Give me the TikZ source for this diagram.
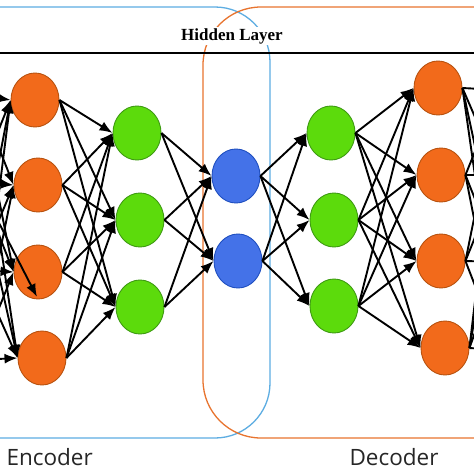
\documentclass[tikz,border=0pt]{standalone}
\usepackage{fontspec}
\setmainfont{Liberation Serif}
\newfontfamily\labfont{Open Sans}
\usetikzlibrary{shapes.geometric,arrows.meta}
\definecolor{orfill}{HTML}{F26A1B}
\definecolor{ordraw}{HTML}{B8520F}
\definecolor{grfill}{HTML}{5CDB0C}
\definecolor{grdraw}{HTML}{3E9B12}
\definecolor{blfill}{HTML}{4472E8}
\definecolor{bldraw}{HTML}{1F4FC0}
\definecolor{encline}{HTML}{5DADE2}
\definecolor{decline}{HTML}{E8742F}
\begin{document}
\begin{tikzpicture}[x=1pt,y=-1pt,
  neuron/.style={ellipse,inner sep=0pt,minimum width=48pt,minimum height=54pt,line width=0.9pt},
  onode/.style={neuron,fill=orfill,draw=ordraw},
  gnode/.style={neuron,fill=grfill,draw=grdraw},
  bnode/.style={neuron,fill=blfill,draw=bldraw},
  edge/.style={line width=1.9pt,-{Latex[length=13pt,width=10pt]}},
  plain/.style={line width=1.9pt},
  encbox/.style={draw=encline,line width=1.3pt,rounded corners=55pt},
  decbox/.style={draw=decline,line width=1.3pt,rounded corners=58pt},
  title/.style={font=\bfseries\fontsize{17}{19}\selectfont,fill=white,inner sep=1pt,anchor=base},
  lab/.style={font=\labfont\fontsize{22.5}{25}\selectfont,inner sep=0pt,text=black!85}]
\useasboundingbox (0,0) rectangle (474,474);
\clip (0,0) rectangle (474,474);
\fill[white] (0,0) rectangle (474,474);
% boxes
\draw[encbox] (-80,7) rectangle (270,438);
\draw[decbox] (203,7) rectangle (560,438);
\draw[line width=1.4pt] (0,53) -- (474,53);
\node[title] (hl) at (232,40) {Hidden Layer};
\node[lab,anchor=base east] (enc) at (93,465) {Encoder};
\node[lab,anchor=base] (dec) at (394,465) {Decoder};
% neurons
\node[onode] (a1) at (35,100) {};
\node[onode] (a2) at (38,185) {};
\node[onode] (a3) at (38,272) {};
\node[onode] (a4) at (42,358) {};
\node[gnode] (b1) at (137,133) {};
\node[gnode] (b2) at (140,220) {};
\node[gnode] (b3) at (140,307) {};
\node[bnode] (c1) at (236,176) {};
\node[bnode] (c2) at (238,261) {};
\node[gnode] (d1) at (331,133) {};
\node[gnode] (d2) at (334,220) {};
\node[gnode] (d3) at (334,306) {};
\node[onode] (e1) at (438,88) {};
\node[onode] (e2) at (441,175) {};
\node[onode] (e3) at (441,261) {};
\node[onode] (e4) at (445,348) {};
% off-picture inputs / outputs
\coordinate (in1) at (-22,95);
\coordinate (in2) at (-22,182);
\coordinate (in3) at (-22,270);
\coordinate (in4) at (-22,360);
\coordinate (out1) at (500,90);
\coordinate (out2) at (500,175);
\coordinate (out3) at (500,262);
\coordinate (out4) at (500,350);
\coordinate (stray) at (37,297);
% connectors
\foreach \i in {1,...,4}{\foreach \j in {1,...,4}{\draw[edge] (in\i) -- (a\j.west);}}
\foreach \i in {1,...,4}{\foreach \j in {1,2,3}{\draw[edge] (a\i.east) -- (b\j.west);}}
\foreach \i in {1,2,3}{\foreach \j in {1,2}{\draw[edge] (b\i.east) -- (c\j.west);}}
\foreach \i in {1,2}{\foreach \j in {1,2,3}{\draw[edge] (c\i.east) -- (d\j.west);}}
\foreach \i in {1,2,3}{\foreach \j in {1,...,4}{\draw[edge] (d\i.east) -- (e\j.west);}}
\foreach \i in {1,...,4}{\foreach \j in {1,...,4}{\draw[plain] (e\i.east) -- (out\j);}}
\draw[edge] (in2) -- (stray);
\end{tikzpicture}
\end{document}
